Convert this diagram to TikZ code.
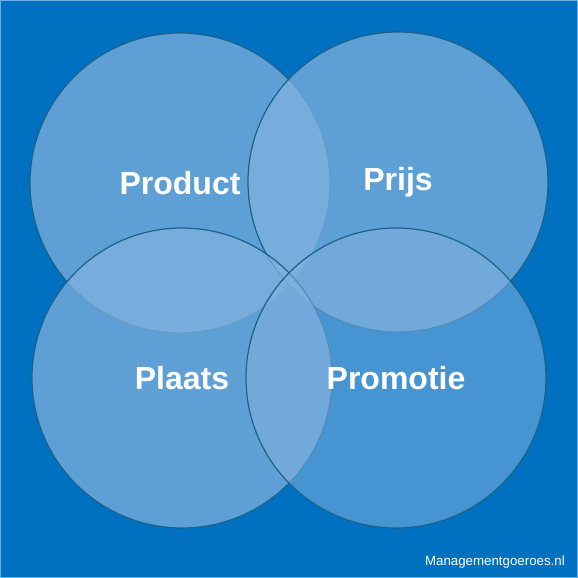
\documentclass[tikz,border=0pt]{standalone}
\usepackage{fontspec}
\setmainfont{Liberation Sans}
\usepackage{xcolor}
\usetikzlibrary{positioning}

\definecolor{bgblue}{HTML}{0070C0}
\definecolor{bgedge}{HTML}{6AAEE6}
\definecolor{ringfill}{HTML}{80B2DF}
\definecolor{ringline}{HTML}{1A6286}

\begin{document}
\begin{tikzpicture}[
  x=1pt, y=-1pt,
  ring/.style={circle, draw=ringline, line width=1.2pt, fill=ringfill, fill opacity=0.74, text opacity=1, draw opacity=1,
    minimum size=300pt, inner sep=0pt, text=white, font=\bfseries\fontsize{32}{38}\selectfont},
  ringdark/.style={ring, fill opacity=0.55},
  credit/.style={anchor=east, text=white, inner sep=0pt, font=\fontsize{13.3}{16}\selectfont}
]
\useasboundingbox (0,0) rectangle (578,578);
\fill[bgblue] (0,0) rectangle (578,578);
\draw[bgedge, line width=1pt] (0.5,0.5) rectangle (577.5,577.5);

% the four P's
\node[ring] (product) at (180,183) {Product};
\node[ring] (prijs) at (398,182) {Prijs};
\node[ring] (plaats) at (182,378) {Plaats};
\node[ringdark] (promotie) at (396,378) {Promotie};

\node[credit] (site) at (565,562) {Managementgoeroes.nl};
\end{tikzpicture}
\end{document}
